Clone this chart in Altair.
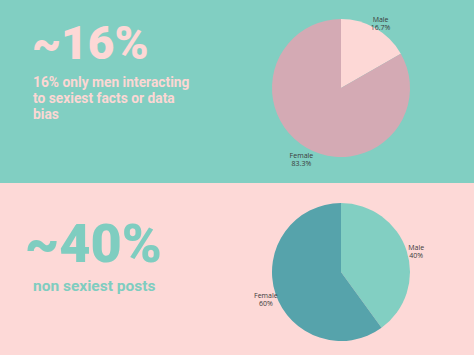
import altair as alt
import pandas as pd

# ---- data ----
top_genders = ["Male", "Female"]
top_shares = [16.7, 83.3]
top_labels = ["Male\n16.7%", "Female\n83.3%"]
top_colors = ["#fdd8d6", "#d4aab4"]

bot_genders = ["Male", "Female"]
bot_shares = [40, 60]
bot_labels = ["Male\n40%", "Female\n60%"]
bot_colors = ["#82cfc2", "#56a3ab"]

top_big = "~16%"
top_sub_lines = ["16% only men interacting", "to sexiest facts or data", "bias"]
bot_big = "~40%"
bot_sub = "non sexiest posts"

TEAL = "#81cfc2"
PINK = "#fdd9d7"

top_df = pd.DataFrame({"gender": top_genders, "share": top_shares,
                       "label": top_labels, "color": top_colors,
                       "idx": list(range(len(top_genders)))})
bot_df = pd.DataFrame({"gender": bot_genders, "share": bot_shares,
                       "label": bot_labels, "color": bot_colors,
                       "idx": list(range(len(bot_genders)))})
one = alt.Data(values=[{"a": 1}])

# ---- backgrounds ----
bg_top = alt.Chart(one).mark_rect(color=TEAL).encode(
    x=alt.value(0), x2=alt.value(474), y=alt.value(0), y2=alt.value(183))
bg_bot = alt.Chart(one).mark_rect(color=PINK).encode(
    x=alt.value(0), x2=alt.value(474), y=alt.value(183), y2=alt.value(355))

# ---- text blocks ----
t_big_top = alt.Chart(one).mark_text(
    text=top_big, font="Roboto", fontWeight=900, fontSize=46, color="#fdd8d6",
    align="left", baseline="alphabetic").encode(x=alt.value(32), y=alt.value(59))
sub_layers = []
for i, line in enumerate(top_sub_lines):
    sub_layers.append(alt.Chart(one).mark_text(
        text=line, font="Roboto", fontWeight="bold", fontSize=13.8, color="#fcd7d4",
        align="left", baseline="alphabetic"
    ).encode(x=alt.value(33), y=alt.value(87 + 16 * i)))
t_big_bot = alt.Chart(one).mark_text(
    text=bot_big, font="Roboto", fontWeight=900, fontSize=54, color="#7fcdc0",
    align="left", baseline="alphabetic").encode(x=alt.value(25), y=alt.value(262))
t_sub_bot = alt.Chart(one).mark_text(
    text=bot_sub, font="Roboto", fontWeight="bold", fontSize=15.5, color="#7fcdc0",
    align="left", baseline="alphabetic").encode(x=alt.value(33), y=alt.value(291))

# ---- pies ----
def pie(df, cx, cy):
    base = alt.Chart(df).encode(
        theta=alt.Theta("share:Q", stack=True),
        order=alt.Order("idx:Q"),
        x=alt.value(cx), y=alt.value(cy))
    arc = base.mark_arc(outerRadius=69).encode(
        color=alt.Color("color:N", scale=None))
    lab = base.mark_text(radius=79, font="Open Sans", fontSize=7, color="#3a3a3a",
                         lineBreak="\n", lineHeight=8, baseline="middle").encode(
        text="label:N")
    return arc, lab

arc_top, lab_top = pie(top_df, 341, 88)
arc_bot, lab_bot = pie(bot_df, 341, 272)

chart = alt.layer(
    bg_top, bg_bot, t_big_top, *sub_layers, t_big_bot, t_sub_bot,
    arc_top, lab_top, arc_bot, lab_bot
).properties(
    width=474, height=355, padding=0,
    autosize=alt.AutoSizeParams(type="none"),
    background=PINK
).configure_view(stroke=None)

chart.save("out.html", embed_options={"renderer": "svg", "actions": False})
